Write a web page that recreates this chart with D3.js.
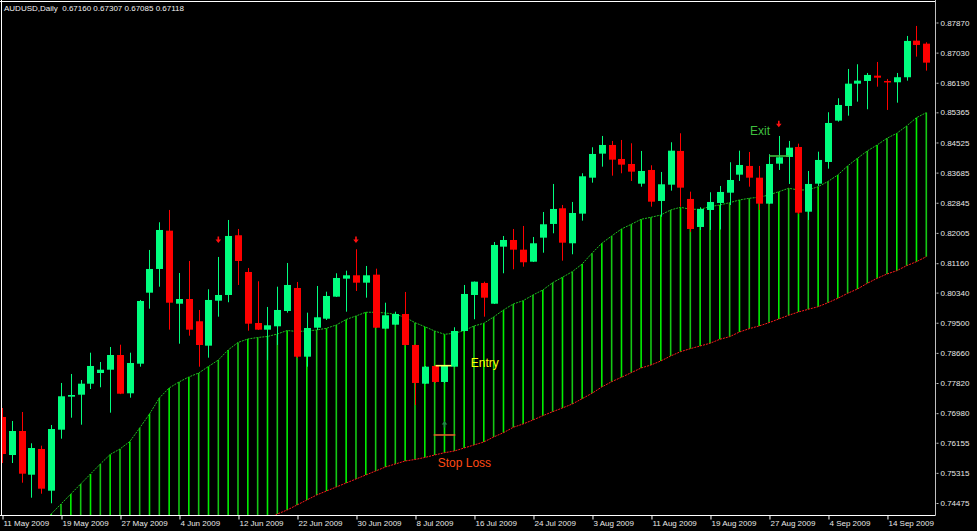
<!DOCTYPE html>
<html><head><meta charset="utf-8">
<script src="https://cdn.jsdelivr.net/npm/d3@7"></script>
<style>html,body{margin:0;padding:0;background:#000;overflow:hidden}svg{display:block}</style>
</head><body><svg id="c" width="977" height="531"></svg>
<script>
// ---------- DATA ----------
const title = "AUDUSD,Daily  0.67160 0.67307 0.67085 0.67118";
const startDate = "2009-05-11";
const barCount = 95;
const xTickLabels = ["11 May 2009","19 May 2009","27 May 2009","4 Jun 2009","12 Jun 2009","22 Jun 2009","30 Jun 2009","8 Jul 2009","16 Jul 2009","24 Jul 2009","3 Aug 2009","11 Aug 2009","19 Aug 2009","27 Aug 2009","4 Sep 2009","14 Sep 2009"];
const yTickValues = [0.87870,0.87030,0.86190,0.85365,0.84525,0.83685,0.82845,0.82005,0.81160,0.80340,0.79500,0.78660,0.77820,0.76980,0.76155,0.75315,0.74475];

const open = [0.76873,0.75813,0.76482,0.75264,0.75981,0.74818,0.76519,0.77439,0.77494,0.77801,
0.78099,0.78191,0.78601,0.77533,0.78359,0.80338,0.80999,0.82067,0.80031,0.80162,
0.79541,0.78861,0.80115,0.80274,0.81939,0.80915,0.79493,0.79307,0.79401,0.79828,
0.80469,0.78554,0.79362,0.79613,0.80227,0.80729,0.80823,0.80617,0.80840,0.79335,
0.79446,0.79744,0.78880,0.77801,0.78295,0.77849,0.78275,0.79270,0.80274,0.80609,
0.80031,0.81621,0.81807,0.81537,0.81202,0.81872,0.82254,0.82691,0.81715,0.82541,
0.83544,0.84214,0.84456,0.84066,0.83926,0.83377,0.83759,0.82895,0.83349,0.84289,
0.82951,0.82170,0.82644,0.82839,0.83126,0.83628,0.83871,0.83544,0.82820,0.83935,
0.84122,0.84400,0.82596,0.83377,0.83982,0.85134,0.85543,0.86165,0.86240,0.86388,
0.86240,0.86204,0.86344,0.87364,0.87280];
const high = [0.77124,0.76761,0.77012,0.76139,0.76073,0.76650,0.77821,0.78072,0.77904,0.78665,
0.78406,0.78824,0.78888,0.78665,0.80135,0.81529,0.82301,0.82644,0.80887,0.81222,
0.79856,0.80433,0.81334,0.82365,0.82114,0.81027,0.80656,0.79940,0.80505,0.81166,
0.80637,0.79781,0.80525,0.80366,0.80879,0.80952,0.81548,0.81083,0.81007,0.80059,
0.79808,0.80358,0.78894,0.78295,0.78322,0.78322,0.79374,0.80553,0.80650,0.80645,
0.81752,0.81919,0.82114,0.82198,0.81891,0.82588,0.83369,0.82783,0.82867,0.83667,
0.84392,0.84707,0.84568,0.84595,0.84503,0.84289,0.83890,0.83703,0.84531,0.84782,
0.83154,0.82719,0.83137,0.83313,0.83974,0.84297,0.84261,0.83871,0.84197,0.84707,
0.84568,0.84492,0.83731,0.84269,0.85368,0.85758,0.86575,0.86706,0.86463,0.86770,
0.86296,0.86463,0.87495,0.87774,0.87319];
const low = [0.75590,0.75590,0.75041,0.74623,0.74734,0.74467,0.76268,0.76853,0.76658,0.77653,
0.77701,0.76993,0.77510,0.77411,0.78275,0.79892,0.80505,0.79307,0.78916,0.79139,
0.78275,0.78526,0.79669,0.80071,0.80553,0.79279,0.79298,0.78462,0.78880,0.79781,
0.78518,0.78275,0.79298,0.79577,0.80218,0.79808,0.80386,0.80199,0.79354,0.79326,
0.79438,0.78866,0.77207,0.77793,0.77821,0.77821,0.78267,0.79256,0.79597,0.79669,
0.80023,0.80879,0.80991,0.81063,0.81194,0.81453,0.81994,0.81230,0.81409,0.82346,
0.83405,0.83851,0.83600,0.83667,0.83452,0.83293,0.82736,0.82457,0.83182,0.82736,
0.82031,0.82086,0.82086,0.82100,0.82783,0.83452,0.83293,0.82644,0.82811,0.83759,
0.83369,0.82532,0.82365,0.83313,0.83795,0.85106,0.85273,0.85663,0.85451,0.86081,
0.85432,0.85635,0.86249,0.86918,0.86528];
const close = [0.75841,0.76482,0.75292,0.76008,0.74874,0.76538,0.77450,0.77486,0.77801,0.78295,
0.78191,0.78601,0.77522,0.78378,0.80107,0.80999,0.82086,0.80059,0.80162,0.79307,
0.78880,0.80135,0.80274,0.81919,0.81222,0.79474,0.79307,0.79429,0.79856,0.80553,
0.78554,0.79354,0.79652,0.80246,0.80748,0.80823,0.80617,0.80823,0.79362,0.79708,
0.79744,0.78880,0.77821,0.78275,0.77849,0.78295,0.79270,0.80302,0.80645,0.80199,
0.81668,0.81807,0.81537,0.81186,0.81715,0.82245,0.82672,0.81732,0.82560,0.83583,
0.84205,0.84456,0.84046,0.83907,0.83712,0.83731,0.82875,0.83360,0.84297,0.83266,
0.82114,0.82672,0.82867,0.83146,0.83480,0.83898,0.83544,0.82820,0.83926,0.84113,
0.84381,0.82569,0.83369,0.84038,0.85069,0.85571,0.86165,0.86249,0.86408,0.86332,
0.86204,0.86344,0.87356,0.87244,0.86751];

// indicator band (upper trailing line, lower stop line); null = not drawn
const upperBand = [null,null,null,null,0.73862,0.74168,0.74447,0.74726,0.75005,0.75284,
0.75562,0.75827,0.75981,0.76190,0.76566,0.76956,0.77402,0.77681,0.77849,0.77988,
0.78099,0.78281,0.78462,0.78741,0.78950,0.79047,0.79089,0.79117,0.79187,0.79284,
0.79256,0.79270,0.79298,0.79346,0.79438,0.79591,0.79689,0.79792,0.79792,0.79772,
0.79736,0.79652,0.79502,0.79390,0.79270,0.79178,0.79206,0.79279,0.79410,0.79485,
0.79661,0.79856,0.80023,0.80115,0.80274,0.80413,0.80617,0.80768,0.80924,0.81138,
0.81437,0.81715,0.81919,0.82114,0.82245,0.82384,0.82440,0.82504,0.82644,0.82719,
0.82663,0.82663,0.82736,0.82783,0.82847,0.82923,0.82970,0.82998,0.83062,0.83154,
0.83249,0.83201,0.83201,0.83293,0.83438,0.83620,0.83871,0.84085,0.84289,0.84456,
0.84643,0.84782,0.84986,0.85217,0.85357];
const lowerBand = [null,null,null,null,null,null,null,null,null,null,
null,null,null,null,null,null,null,null,null,null,
null,null,null,null,null,null,null,0.74029,0.74168,0.74280,
0.74419,0.74559,0.74698,0.74810,0.74921,0.75033,0.75144,0.75256,0.75367,0.75479,
0.75562,0.75646,0.75688,0.75744,0.75813,0.75877,0.75925,0.76008,0.76092,0.76176,
0.76315,0.76435,0.76586,0.76678,0.76789,0.76909,0.77020,0.77124,0.77235,0.77383,
0.77533,0.77709,0.77857,0.77980,0.78108,0.78239,0.78322,0.78434,0.78573,0.78693,
0.78777,0.78852,0.78927,0.79039,0.79111,0.79242,0.79335,0.79410,0.79502,0.79605,
0.79708,0.79800,0.79875,0.79948,0.80059,0.80182,0.80321,0.80441,0.80600,0.80739,
0.80859,0.80952,0.81091,0.81202,0.81342];

// trade annotations (bar index, price)
const sellArrowBars = [22, 36, 79];
const sellArrowPrices = [0.81808, 0.81808, 0.85036];
const buyArrowBar = 45, buyArrowPrice = 0.76678;
const entryLineBars = [44.1, 45.7], entryPrice = 0.78303;
const stopLineBars = [43.9, 46.1], stopPrice = 0.76371;
const exitLineBars = [78.0, 80.0], exitPrice = 0.84149;
const labelTexts = ["Entry", "Stop Loss", "Exit"];
const labelBars = [47.67, 44.31, 76.07];
const labelPrices = [0.78258, 0.75479, 0.84735];
const labelColors = ["#ffff00", "#ff4a14", "#3fbf3f"];

// ---------- CHART ----------
const W = 977, H = 531;
const plotL = 1.5, plotR = 935.5, plotT = 1.5, plotB = 515.5;
const bull = "#00ff7f", bear = "#ff0000";

// trading-day categories
const dates = [];
{ let d = new Date(startDate + "T00:00:00");
  while (dates.length < barCount) { const wd = d.getDay(); if (wd !== 0 && wd !== 6) dates.push(new Date(d)); d.setDate(d.getDate() + 1); } }
const fmt = d3.timeFormat("%-d %b %Y");
const dateLabels = dates.map(fmt);

const x = d3.scaleLinear().domain([0, barCount - 1]).range([2, 926.3]);
const y = d3.scaleLinear().domain([0.74475, 0.87870]).range([503, 22.5]);

const svg = d3.select("#c");
svg.append("rect").attr("width", W).attr("height", H).attr("fill", "#000");
svg.append("defs").append("clipPath").attr("id", "clip")
  .append("rect").attr("x", plotL + 0.5).attr("y", plotT + 0.5).attr("width", plotR - plotL - 1).attr("height", plotB - plotT - 1);
const g = svg.append("g").attr("clip-path", "url(#clip)");

// stripes
const idx = d3.range(barCount);
g.append("g").selectAll("line").data(idx.filter(i => upperBand[i] != null)).join("line")
  .attr("x1", i => x(i)).attr("x2", i => x(i))
  .attr("y1", i => lowerBand[i] != null ? y(lowerBand[i]) : plotB + 2)
  .attr("y2", i => y(upperBand[i]))
  .attr("stroke", (i) => i % 2 ? "#00f000" : "#14c814").attr("stroke-width", 1.6);

// band lines
const upLine = d3.line().defined(i => upperBand[i] != null).x(i => x(i)).y(i => y(upperBand[i]));
const loLine = d3.line().defined(i => lowerBand[i] != null).x(i => x(i)).y(i => y(lowerBand[i]));
g.append("path").attr("d", upLine(idx)).attr("fill", "none").attr("stroke", "#1fbf1f").attr("stroke-width", 1).attr("stroke-dasharray", "2,1");
g.append("path").attr("d", loLine(idx)).attr("fill", "none").attr("stroke", "#ff1a1a").attr("stroke-width", 1).attr("stroke-dasharray", "2,1");

// candles
const cg = g.append("g");
const bw = 7;
cg.selectAll("line.w").data(idx).join("line").attr("class", "w")
  .attr("x1", i => Math.round(x(i)) + 0.5).attr("x2", i => Math.round(x(i)) + 0.5)
  .attr("y1", i => y(high[i])).attr("y2", i => y(low[i]))
  .attr("stroke", i => close[i] >= open[i] ? bull : bear).attr("stroke-width", 1);
cg.selectAll("rect.b").data(idx).join("rect").attr("class", "b")
  .attr("x", i => Math.round(x(i)) + 0.5 - bw / 2)
  .attr("width", bw)
  .attr("y", i => y(Math.max(open[i], close[i])))
  .attr("height", i => Math.max(1.5, Math.abs(y(open[i]) - y(close[i]))))
  .attr("fill", i => close[i] >= open[i] ? bull : bear);

// annotations
const ag = g.append("g");
function downArrow(cx, cy, col) {
  const p = `M${cx - 0.8},${cy - 3.5} h1.6 v3 h2 l-2.8,3.5 l-2.8,-3.5 h2 z`;
  ag.append("path").attr("d", p).attr("fill", col);
}
function upArrow(cx, cy, col) {
  const p = `M${cx - 0.8},${cy + 3.5} h1.6 v-3 h2 l-2.8,-3.5 l-2.8,3.5 h2 z`;
  ag.append("path").attr("d", p).attr("fill", col);
}
sellArrowBars.forEach((b, k) => downArrow(x(b), y(sellArrowPrices[k]), "#ff1010"));
upArrow(x(buyArrowBar), y(buyArrowPrice), "#1f8a45");
ag.append("line").attr("x1", x(entryLineBars[0])).attr("x2", x(entryLineBars[1]))
  .attr("y1", y(entryPrice)).attr("y2", y(entryPrice)).attr("stroke", "#ffff60").attr("stroke-width", 1.6);
ag.append("line").attr("x1", x(stopLineBars[0])).attr("x2", x(stopLineBars[1]))
  .attr("y1", y(stopPrice)).attr("y2", y(stopPrice)).attr("stroke", "#e0602a").attr("stroke-width", 1.6);
ag.append("line").attr("x1", x(exitLineBars[0])).attr("x2", x(exitLineBars[1]))
  .attr("y1", y(exitPrice)).attr("y2", y(exitPrice)).attr("stroke", "#3fbf3f").attr("stroke-width", 1.6);
labelTexts.forEach((t, k) => {
  ag.append("text").attr("x", x(labelBars[k])).attr("y", y(labelPrices[k]))
    .attr("fill", labelColors[k]).attr("font-family", "'Liberation Sans', Arial, sans-serif")
    .attr("font-size", 12).text(t);
});

// frame
svg.append("line").attr("x1", plotL).attr("x2", plotL).attr("y1", 0).attr("y2", plotB).attr("stroke", "#fff");
svg.append("line").attr("x1", 0).attr("x2", plotR).attr("y1", plotT).attr("y2", plotT).attr("stroke", "#fff");

// x axis
const xTickIdx = xTickLabels.map(l => dateLabels.indexOf(l));
const xAxis = d3.axisBottom(x).tickValues(xTickIdx).tickSize(4).tickSizeOuter(0)
  .tickFormat(i => dateLabels[i]);
const xa = svg.append("g").attr("transform", `translate(0,${plotB})`).call(xAxis);
xa.select(".domain").attr("d", `M0,0H${plotR}`).attr("stroke", "#fff");
xa.selectAll(".tick line").attr("stroke", "#fff").attr("transform", "translate(0.5,0)");
xa.selectAll(".tick text").attr("text-anchor", "start").attr("dx", 1).attr("y", 4).attr("dy", "0.8em")
  .attr("fill", "#e8e8e8").attr("font-family", "'Liberation Sans', Arial, sans-serif").attr("font-size", 8);

// y axis
const yAxis = d3.axisRight(y).tickValues(yTickValues).tickSize(3).tickPadding(2).tickFormat(d3.format(".5f"));
const ya = svg.append("g").attr("transform", `translate(${plotR},0)`).call(yAxis);
ya.select(".domain").attr("d", `M0,0V${plotB}`).attr("stroke", "#c0c0c0");
ya.selectAll(".tick line").attr("stroke", "#c0c0c0").attr("x1", 1);
ya.selectAll(".tick text").attr("fill", "#e8e8e8").attr("font-family", "'Liberation Sans', Arial, sans-serif").attr("font-size", 8);

// header
svg.append("text").attr("x", 4).attr("y", 10.5).attr("fill", "#f0f0f0")
  .attr("font-family", "'Liberation Sans', Arial, sans-serif").attr("font-size", 8)
  .attr("xml:space", "preserve").style("white-space", "pre").text(title);
</script></body></html>
